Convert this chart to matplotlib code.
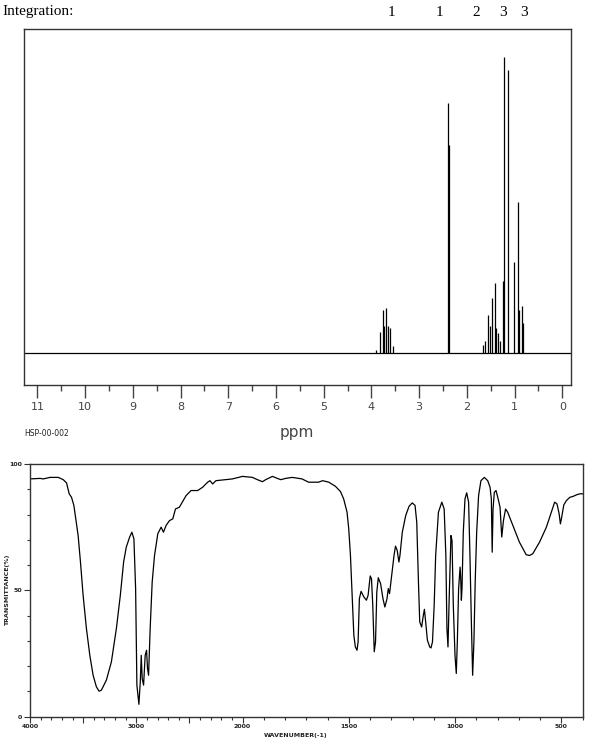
import numpy as np
import matplotlib
matplotlib.use("Agg")
import matplotlib.pyplot as plt
from matplotlib.ticker import MultipleLocator, FixedLocator, FixedFormatter, FormatStrFormatter
from matplotlib.transforms import blended_transform_factory

# -----------------------------
# 1H NMR peaks (ppm, relative height)
# -----------------------------
nmr_ppm = [3.906, 3.829, 3.766, 3.731, 3.696, 3.661, 3.612, 3.556,
           2.389, 2.368,
           1.656, 1.614, 1.565, 1.516, 1.474, 1.418, 1.390, 1.341, 1.306,
           1.236, 1.215, 1.145,
           1.019, 0.936, 0.901, 0.852, 0.831]
nmr_height = [1.1, 7.1, 14.6, 9.0, 15.2, 9.0, 8.4, 2.2,
              84.3, 70.2,
              2.8, 3.9, 12.9, 9.0, 18.5, 23.6, 8.4, 6.7, 3.9,
              24.2, 100.0, 95.5,
              30.6, 51.1, 14.6, 15.7, 10.1]

integ_ppm = [3.58, 2.58, 1.81, 1.24, 0.80]
integ_text = ["1", "1", "2", "3", "3"]

nmr_ticks = [11, 10, 9, 8, 7, 6, 5, 4, 3, 2, 1, 0]

# -----------------------------
# IR spectrum (wavenumber, %T)
# -----------------------------
ir_wavenumber = [4000, 3906, 3875, 3812, 3734, 3687, 3656, 3631, 3609, 3587,
                 3569, 3547, 3525, 3500, 3469, 3437, 3406, 3375, 3350, 3328,
                 3281, 3234, 3187, 3150, 3119, 3094, 3062, 3041, 3022, 3006,
                 2994, 2984, 2975, 2962, 2953, 2944, 2931, 2916, 2903, 2894,
                 2884, 2869, 2850, 2828, 2797, 2766, 2744, 2719, 2687, 2656,
                 2631, 2594, 2531, 2484, 2422, 2375, 2328, 2306, 2281, 2250,
                 2094, 2000, 1953, 1930, 1906, 1891, 1859, 1836, 1820, 1797,
                 1766, 1736, 1720, 1689, 1642, 1623, 1594, 1563, 1539, 1524,
                 1508, 1500, 1492, 1484, 1476, 1469, 1461, 1456, 1450, 1442,
                 1429, 1417, 1409, 1399, 1393, 1387, 1380, 1374, 1368, 1361,
                 1350, 1339, 1330, 1320, 1314, 1308, 1298, 1287, 1280, 1272,
                 1264, 1259, 1248, 1232, 1216, 1201, 1188, 1180, 1172, 1166,
                 1157, 1149, 1144, 1138, 1130, 1119, 1113, 1106, 1098, 1091,
                 1078, 1062, 1051, 1043, 1038, 1033, 1027, 1019, 1014, 1008,
                 1000, 994, 989, 983, 976, 973, 970, 967, 961, 953,
                 945, 936, 930, 923, 917, 911, 905, 898, 889, 878,
                 862, 846, 835, 829, 825, 821, 815, 807, 797, 788,
                 780, 772, 762, 752, 728, 697, 665, 649, 634, 602,
                 570, 547, 531, 520, 510, 504, 498, 488, 476, 460,
                 444, 428, 413, 400]
ir_transmittance = [94.1, 94.3, 94.1, 94.7, 94.7, 93.8, 92.5, 88.2, 86.8, 83.6,
                    78.3, 71.7, 61.2, 48.0, 34.9, 24.3, 16.4, 11.8, 10.1, 10.5,
                    14.5, 21.7, 34.9, 48.0, 61.2, 67.1, 71.1, 73.0, 70.4, 50.7,
                    12.5, 8.6, 4.9, 13.8, 24.3, 15.1, 12.5, 24.3, 26.3, 19.1,
                    16.4, 34.9, 53.3, 63.8, 72.4, 75.0, 73.0, 75.7, 77.6, 78.3,
                    82.2, 82.9, 87.5, 89.5, 89.5, 90.8, 92.8, 93.4, 92.1, 93.4,
                    94.1, 95.1, 94.7, 93.8, 93.0, 93.8, 95.1, 94.3, 93.8, 94.3,
                    94.7, 94.3, 94.1, 92.8, 92.8, 93.4, 92.8, 91.2, 89.1, 86.2,
                    80.9, 74.3, 63.8, 48.0, 32.2, 27.6, 26.3, 29.6, 46.7, 49.6,
                    47.4, 46.1, 48.0, 55.7, 54.6, 44.1, 25.7, 29.6, 49.3, 55.0,
                    52.6, 46.7, 43.4, 46.7, 50.7, 48.7, 55.9, 63.8, 67.5, 65.8,
                    61.2, 63.8, 73.0, 79.6, 83.3, 84.6, 83.6, 77.0, 53.3, 37.5,
                    35.5, 40.1, 42.5, 37.5, 30.3, 27.6, 27.2, 29.6, 44.1, 63.8,
                    80.9, 84.9, 82.2, 63.8, 34.9, 27.6, 48.0, 71.7, 69.7, 44.1,
                    24.3, 17.1, 29.6, 50.7, 59.2, 54.6, 46.1, 50.7, 73.0, 86.2,
                    88.6, 84.9, 65.1, 37.5, 16.4, 29.6, 53.3, 73.0, 87.5, 93.4,
                    94.7, 93.4, 90.8, 86.2, 65.1, 82.2, 88.8, 89.5, 86.2, 82.9,
                    71.1, 77.6, 82.2, 80.9, 75.7, 69.1, 64.1, 63.8, 64.5, 69.1,
                    75.0, 80.9, 84.9, 84.2, 80.3, 76.3, 78.9, 83.8, 85.5, 86.8,
                    87.2, 87.8, 88.2, 88.2]

ir_major = [4000, 3500, 3000, 2500, 2000, 1500, 1000, 500]
ir_major_labels = ["4000", "", "3000", "", "2000", "1500", "1000", "500"]


# IR axis: scale doubles below 2000 cm-1
def wn_fwd(w):
    w = np.asarray(w, dtype=float)
    return np.where(w >= 2000, w, 2000 - 2 * (2000 - w))


def wn_inv(u):
    u = np.asarray(u, dtype=float)
    return np.where(u >= 2000, u, 2000 - (2000 - u) / 2)


fig = plt.figure(figsize=(5.93, 7.47), dpi=100)
W, H = 593.0, 747.0

# -----------------------------
# NMR panel
# -----------------------------
ax1 = fig.add_axes([24 / W, 1 - 385 / H, (570.7 - 24) / W, (385 - 29) / H])
ax1.vlines(nmr_ppm, 0, nmr_height, color="black", lw=0.9)
ax1.axhline(0, color="black", lw=0.9)
ax1.set_xlim(11.28, -0.176)
ax1.set_ylim(-10.8, 109.3)
ax1.set_yticks([])
ax1.xaxis.set_major_locator(FixedLocator(nmr_ticks))
ax1.xaxis.set_major_formatter(FormatStrFormatter("%d"))
ax1.xaxis.set_minor_locator(MultipleLocator(0.5))
ax1.tick_params(axis="x", which="major", length=9, width=1, color="#444",
                labelsize=8, labelcolor="#444", pad=3)
ax1.tick_params(axis="x", which="minor", length=4, width=1, color="#444")
for s in ax1.spines.values():
    s.set_color("#333")
    s.set_linewidth(1)

fig.text(2 / W, 1 - 12 / H, "Integration:", family="Liberation Serif",
         fontsize=11, va="center", ha="left")
tr = blended_transform_factory(ax1.transData, fig.transFigure)
for p, t in zip(integ_ppm, integ_text):
    ax1.text(p, 1 - 12 / H, t, transform=tr, family="Liberation Serif",
             fontsize=11, ha="center", va="center")

fig.text(297 / W, 1 - 433 / H, "ppm", fontsize=11, color="#444",
         ha="center", va="center")
fig.text(24 / W, 1 - 433 / H, "HSP-00-002", fontsize=5.5, color="#222",
         ha="left", va="center")

# -----------------------------
# IR panel
# -----------------------------
ax2 = fig.add_axes([30 / W, 1 - 716.7 / H, (582.5 - 30) / W, (716.7 - 464) / H])
ax2.set_xscale("function", functions=(wn_fwd, wn_inv))
ax2.plot(ir_wavenumber, ir_transmittance, color="black", lw=0.9)
ax2.set_xlim(4000, 400)
ax2.set_ylim(0, 100)

ax2.xaxis.set_major_locator(FixedLocator(ir_major))
ax2.xaxis.set_major_formatter(FixedFormatter(ir_major_labels))
ax2.xaxis.set_minor_locator(FixedLocator(list(range(400, 4001, 100))))
ax2.yaxis.set_major_locator(FixedLocator([0, 50, 100]))
ax2.yaxis.set_minor_locator(MultipleLocator(10))

ax2.tick_params(which="major", length=4, width=0.8, color="#333",
                labelsize=4.5, labelcolor="#222", pad=1.5)
ax2.tick_params(which="minor", length=2, width=0.8, color="#333")
for lab in ax2.get_xticklabels() + ax2.get_yticklabels():
    lab.set_fontweight("bold")
for s in ax2.spines.values():
    s.set_color("#333")
    s.set_linewidth(1)

ax2.set_ylabel("TRANSMITTANCE(%)", fontsize=4.5, fontweight="bold", color="#222")
ax2.yaxis.set_label_coords(-0.036, 0.5)
ax2.set_xlabel("WAVENUMBER(-1)", fontsize=4.5, fontweight="bold", color="#222")
ax2.xaxis.set_label_coords(0.48, -0.064)

fig.savefig("out.png", dpi=100)
